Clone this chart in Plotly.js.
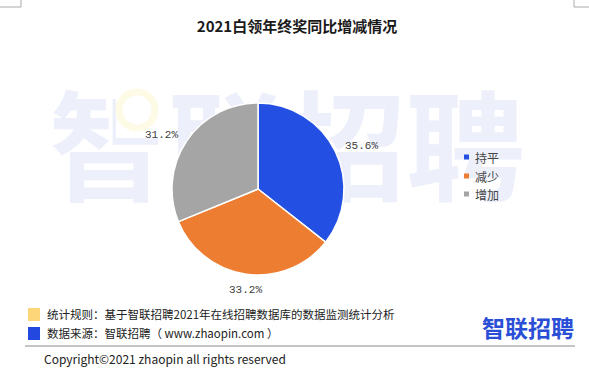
<!DOCTYPE html>
<html>
<head>
<meta charset="utf-8">
<script src="https://cdn.plot.ly/plotly-3.0.1.min.js"></script>
<style>
html,body{margin:0;padding:0;background:#fff;}
#chart{width:589px;height:381px;}
</style>
</head>
<body>
<div id="chart"></div>
<script>
// ---- data ----
var categories = ['持平', '减少', '增加'];
var shares = [35.6, 33.2, 31.2];
var sliceColors = ['#2350E2', '#ED7D31', '#A5A5A5'];
var chartTitle = '2021白领年终奖同比增减情况';
var watermarkText = '智联招聘';
var noteRule = '统计规则：基于智联招聘2021年在线招聘数据库的数据监测统计分析';
var noteSource = '数据来源：智联招聘（ www.zhaopin.com ）';
var copyrightText = 'Copyright©2021 zhaopin all rights reserved';
var logoText = '智联招聘';

var W = 589, H = 381;
function px(x){ return x / W; }
function py(y){ return 1 - y / H; }

var pieCx = 258, pieCy = 189, pieR = 86;

var traces = [];
// watermark behind the pie (cartesian layer is drawn under the pie layer)
traces.push({
  type: 'scatter', mode: 'text', x: [287], y: [162], text: [watermarkText],
  textposition: 'middle center',
  textfont: {family: 'Noto Sans CJK SC', size: 119, color: '#EDF0FA', weight: 700},
  hoverinfo: 'skip', showlegend: false, cliponaxis: false
});
// pie
traces.push({
  type: 'pie', labels: categories, values: shares, sort: false, direction: 'clockwise',
  rotation: 0,
  marker: {colors: sliceColors, line: {color: '#FFFFFF', width: 1.5}},
  textinfo: 'none',
  domain: {x: [px(pieCx - pieR), px(pieCx + pieR)], y: [py(pieCy + pieR), py(pieCy - pieR)]},
  hoverinfo: 'skip', showlegend: false
});

var annotations = [];
// slice value labels, placed outside along each slice's mid angle
var total = shares.reduce(function(a, b){ return a + b; }, 0);
var acc = 0;
for (var i = 0; i < shares.length; i++) {
  var mid = (acc + shares[i] / 2) / total * 2 * Math.PI;
  acc += shares[i];
  var dx = Math.sin(mid), dy = -Math.cos(mid);
  var R = pieR + 8;
  var lx = pieCx + dx * R, ly = pieCy + dy * R;
  var side = Math.abs(dx) > 0.35;
  annotations.push({
    xref: 'paper', yref: 'paper', x: px(lx), y: py(side ? ly - 2 : ly),
    xanchor: dx > 0.35 ? 'left' : (dx < -0.35 ? 'right' : 'center'),
    yanchor: side ? 'middle' : (dy > 0 ? 'top' : 'bottom'),
    showarrow: false, text: shares[i].toFixed(1) + '%',
    font: {family: 'Liberation Mono', size: 11, color: '#404040'}
  });
}

var shapes = [
  // logo ring inside the watermark's first character
  {type: 'rect', xref: 'paper', yref: 'paper', x0: px(116), x1: px(160), y0: py(138), y1: py(90),
   fillcolor: '#FFFFFF', line: {width: 0}},
  {type: 'circle', xref: 'paper', yref: 'paper', x0: px(119), x1: px(155), y0: py(128), y1: py(92),
   fillcolor: 'rgba(0,0,0,0)', line: {color: '#FDFAE6', width: 7}}
];
// legend (small squares + labels)
var legendY = [157, 176, 194];
for (var j = 0; j < categories.length; j++) {
  shapes.push({type: 'rect', xref: 'paper', yref: 'paper', x0: px(464), x1: px(469),
               y0: py(legendY[j] + 2.5), y1: py(legendY[j] - 2.5), fillcolor: sliceColors[j], line: {width: 0}});
  annotations.push({xref: 'paper', yref: 'paper', x: px(473), y: py(legendY[j]), xanchor: 'left', yanchor: 'middle',
                    showarrow: false, text: categories[j], font: {family: 'Noto Sans CJK SC', size: 12, color: '#444444'}});
}

shapes = shapes.concat([
  // footer colour keys
  {type: 'rect', xref: 'paper', yref: 'paper', x0: px(28), x1: px(40), y0: py(321), y1: py(308), fillcolor: '#FCD679', line: {width: 0}},
  {type: 'rect', xref: 'paper', yref: 'paper', x0: px(28), x1: px(40), y0: py(340), y1: py(327), fillcolor: '#2348E0', line: {width: 0}},
  // separator line
  {type: 'line', xref: 'paper', yref: 'paper', x0: px(25), x1: px(575), y0: py(346), y1: py(346), line: {color: '#8A8A8A', width: 1}},
  // corner marks
  {type: 'line', xref: 'paper', yref: 'paper', x0: px(21), x1: px(21), y0: py(0), y1: py(7), line: {color: '#AAAAAA', width: 1}},
  {type: 'line', xref: 'paper', yref: 'paper', x0: px(0), x1: px(21), y0: py(7), y1: py(7), line: {color: '#AAAAAA', width: 1}},
  {type: 'line', xref: 'paper', yref: 'paper', x0: px(574), x1: px(574), y0: py(0), y1: py(7), line: {color: '#AAAAAA', width: 1}},
  {type: 'line', xref: 'paper', yref: 'paper', x0: px(574), x1: px(589), y0: py(7), y1: py(7), line: {color: '#AAAAAA', width: 1}}
]);

annotations = annotations.concat([
  {xref: 'paper', yref: 'paper', x: px(45), y: py(314), xanchor: 'left', yanchor: 'middle', showarrow: false,
   text: noteRule, font: {family: 'Noto Sans CJK SC', size: 11.5, color: '#222222'}},
  {xref: 'paper', yref: 'paper', x: px(45), y: py(333), xanchor: 'left', yanchor: 'middle', showarrow: false,
   text: noteSource, font: {family: 'Noto Sans CJK SC', size: 11.5, color: '#222222'}},
  {xref: 'paper', yref: 'paper', x: px(42), y: py(358), xanchor: 'left', yanchor: 'middle', showarrow: false,
   text: copyrightText, font: {family: 'Noto Sans CJK SC', size: 12, color: '#222222'}},
  {xref: 'paper', yref: 'paper', x: px(528), y: py(327), xanchor: 'center', yanchor: 'middle', showarrow: false,
   text: '<b>' + logoText + '</b>', font: {family: 'Noto Sans CJK SC', size: 23, color: '#2A4FD6'}}
]);

var layout = {
  width: W, height: H,
  margin: {l: 0, r: 0, t: 0, b: 0},
  paper_bgcolor: '#FFFFFF', plot_bgcolor: 'rgba(0,0,0,0)',
  title: {text: '<b>' + chartTitle + '</b>', x: px(297), xanchor: 'center', y: py(27), yanchor: 'middle',
          font: {family: 'Noto Sans CJK SC', size: 15, color: '#1A1A1A'}},
  xaxis: {range: [0, W], visible: false, fixedrange: true, domain: [0, 1]},
  yaxis: {range: [H, 0], visible: false, fixedrange: true, domain: [0, 1]},
  showlegend: false,
  shapes: shapes,
  annotations: annotations,
  hovermode: false
};

Plotly.newPlot('chart', traces, layout, {displayModeBar: false, staticPlot: true});
</script>
</body>
</html>
